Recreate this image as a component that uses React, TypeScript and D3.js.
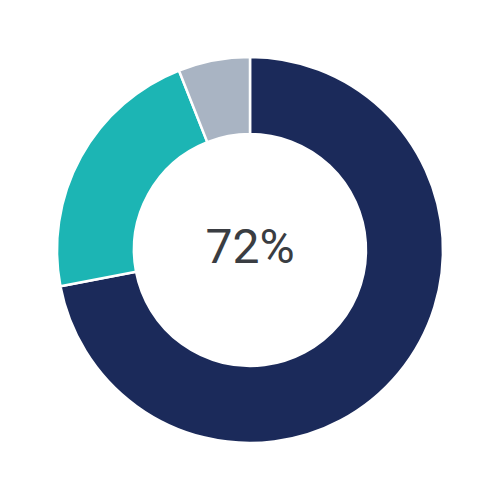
import * as d3 from "d3";
import { useEffect, useRef } from "react";

const categories = ["Primary", "Secondary", "Other"];
const values = [72, 22, 6];
const colors = ["#1b2a5a", "#1cb5b4", "#a9b4c3"];
const centerLabel = "72%";

const App = () => {
  const svgRef = useRef<SVGSVGElement | null>(null);
  const w = 500;
  const h = 500;
  const outerR = 193;
  const innerR = 116;

  useEffect(() => {
    if (!svgRef.current) return;
    const svg = d3.select(svgRef.current);
    svg.selectAll("*").remove();

    const pie = d3.pie<number>().sort(null).value(d => d);
    const arc = d3.arc<d3.PieArcDatum<number>>().innerRadius(innerR).outerRadius(outerR);

    const g = svg.append("g").attr("transform", `translate(${w / 2}, ${h / 2})`);

    g.selectAll("path")
      .data(pie(values))
      .enter().append("path")
      .attr("d", arc)
      .attr("fill", (_, i) => colors[i])
      .attr("stroke", "#ffffff")
      .attr("stroke-width", 2.5)
      .append("title")
      .text((d, i) => `${categories[i]}: ${d.data}%`);

    g.append("text")
      .attr("x", 0)
      .attr("y", 13)
      .attr("text-anchor", "middle")
      .attr("font-family", "Roboto, sans-serif")
      .attr("font-size", 48)
      .attr("fill", "#3a3d42")
      .text(centerLabel);
  }, []);

  return (
    <svg
      ref={svgRef}
      width={w}
      height={h}
      style={{ position: "absolute", left: 0, top: 0, background: "#ffffff" }}
    ></svg>
  );
};

export default App;
